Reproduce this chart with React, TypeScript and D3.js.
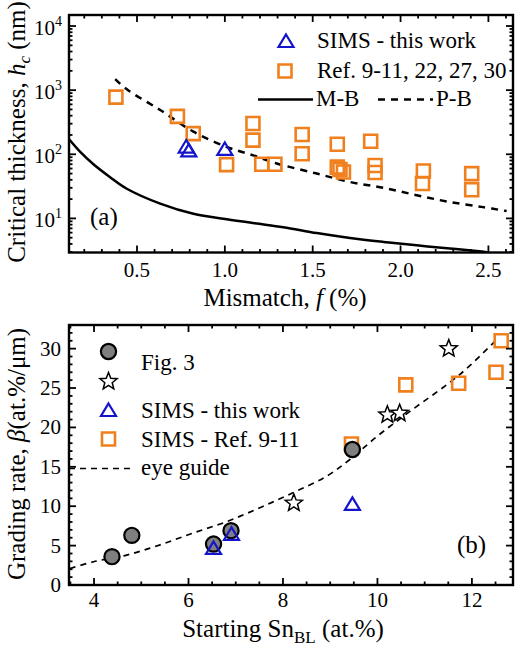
import * as d3 from "d3";
import { useEffect, useRef } from "react";

// (a) critical thickness vs mismatch
const simsMismatch = [0.78, 0.795, 1.0];
const simsThickness = [132, 115, 121];
const refMismatch = [0.38, 0.73, 0.82, 1.16, 1.16, 1.01, 1.21, 1.285, 1.44, 1.44, 1.64, 1.64, 1.655, 1.675, 1.83, 1.855, 1.855, 2.13, 2.125, 2.405, 2.405];
const refThickness = [780, 390, 210, 302, 166, 69, 70, 70, 203, 102, 143, 63, 58, 53, 160, 67, 52, 55, 35, 50, 28];
const mbMismatch = [0.115, 0.177, 0.252, 0.347, 0.442, 0.632, 0.821, 1.011, 1.17, 1.333, 1.523, 1.712, 1.902, 2.092, 2.281, 2.433, 2.5];
const mbThickness = [170, 109, 70, 44, 29, 17, 11.8, 9.7, 8.4, 7.3, 5.9, 4.95, 4.3, 3.8, 3.4, 3.1, 2.95];
const pbMismatch = [0.376, 0.442, 0.632, 0.821, 1.011, 1.162, 1.295, 1.523, 1.712, 1.902, 2.092, 2.281, 2.47, 2.604];
const pbThickness = [1490, 1030, 490, 225, 130, 96, 72, 50, 37, 30, 23, 18, 15, 13];
const mismatchTicks = [0.5, 1.0, 1.5, 2.0, 2.5];
const thicknessExponents = [1, 2, 3, 4];

// (b) grading rate vs starting Sn in the buffer layer
const fig3Sn = [4.38, 4.8, 6.53, 6.9, 9.47];
const fig3Rate = [3.6, 6.3, 5.2, 6.9, 17.2];
const starSn = [8.23, 10.21, 10.47, 11.51];
const starRate = [10.4, 21.6, 21.8, 30.0];
const simsSn = [6.53, 6.91, 9.47];
const simsRate = [4.7, 6.5, 10.3];
const refSn = [9.45, 10.6, 11.72, 12.51, 12.62];
const refRate = [17.9, 25.4, 25.6, 27.0, 31.0];
const guideSn = [3.49, 3.99, 4.69, 5.4, 6.1, 6.81, 7.51, 8.21, 8.92, 9.41, 10.0, 10.68, 11.74, 12.55];
const guideRate = [2.1, 2.95, 3.8, 5.1, 6.6, 8.05, 9.8, 11.7, 13.8, 15.9, 18.9, 22.0, 26.7, 31.3];
const snTicks = [4, 6, 8, 10, 12];
const rateTicks = [0, 5, 10, 15, 20, 25, 30];

const ORANGE = "#f0801e";
const BLUE = "#1414cc";
const FONT = "'Liberation Serif', 'Times New Roman', serif";

const trianglePath = "M0,-6.5L7.5,6L-7.5,6Z";
const squarePath = "M-6.5,-6.5H6.5V6.5H-6.5Z";
const starPath =
  d3
    .range(10)
    .map((i) => {
      const r = i % 2 === 0 ? 9 : 3.9;
      const a = (i * Math.PI) / 5 - Math.PI / 2;
      return `${i === 0 ? "M" : "L"}${(r * Math.cos(a)).toFixed(2)},${(r * Math.sin(a)).toFixed(2)}`;
    })
    .join("") + "Z";

type G = d3.Selection<SVGGElement, unknown, null, undefined>;

const ChartGrading = () => {
  const svgRef = useRef<SVGSVGElement>(null);
  useEffect(() => {
    if (!svgRef.current) return;
    const svg = d3.select(svgRef.current);
    svg.selectAll("*").remove();

    const left = 69;
    const right = 513;
    const topA = 15;
    const bottomA = 252.5;
    const topB = 325;
    const bottomB = 585;

    const xA = d3.scaleLinear().domain([0.113, 2.64]).range([left, right]);
    const yA = d3.scaleLog().domain([2.94, 14860]).range([bottomA, topA]);
    const xB = d3.scaleLinear().domain([3.47, 12.87]).range([left, right]);
    const yB = d3.scaleLinear().domain([0, 33]).range([bottomB, topB]);

    svg.append("rect").attr("width", 520).attr("height", 647).attr("fill", "#fff");

    const defs = svg.append("defs");
    defs.append("clipPath").attr("id", "clipA").append("rect")
      .attr("x", left).attr("y", topA).attr("width", right - left).attr("height", bottomA - topA);
    defs.append("clipPath").attr("id", "clipB").append("rect")
      .attr("x", left).attr("y", topB).attr("width", right - left).attr("height", bottomB - topB);

    // inward ticks on all four sides
    const addTicks = (
      g: G,
      xs: (v: number) => number,
      ys: (v: number) => number,
      xMajor: number[], xMinor: number[], yMajor: number[], yMinor: number[],
      t: number, b: number
    ) => {
      const segs: number[][] = [];
      xMajor.forEach((v) => { const p = xs(v); segs.push([p, b, p, b - 7], [p, t, p, t + 7]); });
      xMinor.forEach((v) => { const p = xs(v); segs.push([p, b, p, b - 3.5], [p, t, p, t + 3.5]); });
      yMajor.forEach((v) => { const p = ys(v); segs.push([left, p, left + 7, p], [right, p, right - 7, p]); });
      yMinor.forEach((v) => { const p = ys(v); segs.push([left, p, left + 3.5, p], [right, p, right - 3.5, p]); });
      g.append("g").attr("stroke", "#000").attr("stroke-width", 1.8)
        .selectAll("line").data(segs).join("line")
        .attr("x1", (d) => d[0]).attr("y1", (d) => d[1])
        .attr("x2", (d) => d[2]).attr("y2", (d) => d[3]);
    };

    const markers = (g: G, path: string, xs: number[], ys: number[], fx: (v: number) => number, fy: (v: number) => number, fill: string, stroke: string, sw: number) => {
      g.append("g").selectAll("path").data(xs.map((v, i) => [v, ys[i]])).join("path")
        .attr("d", path)
        .attr("transform", (d) => `translate(${fx(d[0])},${fy(d[1])})`)
        .attr("fill", fill).attr("stroke", stroke).attr("stroke-width", sw);
    };

    // ---------- panel (a)
    const gA = svg.append("g").attr("font-family", FONT);
    const plotA = gA.append("g").attr("clip-path", "url(#clipA)");
    const lineA = d3.line<number>().curve(d3.curveCatmullRom);
    plotA.append("path")
      .attr("d", lineA.x((_, i) => xA(mbMismatch[i])).y((d) => yA(d))(mbThickness))
      .attr("fill", "none").attr("stroke", "#000").attr("stroke-width", 2.5);
    plotA.append("path")
      .attr("d", lineA.x((_, i) => xA(pbMismatch[i])).y((d) => yA(d))(pbThickness))
      .attr("fill", "none").attr("stroke", "#000").attr("stroke-width", 2.5)
      .attr("stroke-dasharray", "7,6");
    markers(plotA, squarePath, refMismatch, refThickness, xA, yA, "none", ORANGE, 2.6);
    markers(plotA, trianglePath, simsMismatch, simsThickness, xA, yA, "none", BLUE, 2.2);

    const minorMismatch = d3.range(2, 27).filter((i) => i % 5 !== 0).map((i) => i / 10);
    const logMinor: number[] = [];
    [0, 1, 2, 3, 4].forEach((e) => d3.range(2, 10).forEach((k) => {
      const v = k * 10 ** e;
      if (v >= 2.94 && v <= 14860) logMinor.push(v);
    }));
    addTicks(gA, xA, yA, mismatchTicks, minorMismatch, thicknessExponents.map((e) => 10 ** e), logMinor, topA, bottomA);
    gA.append("rect").attr("x", left).attr("y", topA).attr("width", right - left).attr("height", bottomA - topA)
      .attr("fill", "none").attr("stroke", "#000").attr("stroke-width", 2.4);

    gA.append("g").attr("font-size", 21).attr("text-anchor", "middle")
      .selectAll("text").data(mismatchTicks).join("text")
      .attr("x", (d) => xA(d)).attr("y", 277).text((d) => d.toFixed(1));
    const yLabA = gA.append("g").attr("font-size", 21).attr("text-anchor", "end")
      .selectAll("text").data(thicknessExponents).join("text")
      .attr("x", 62).attr("y", (d) => yA(10 ** d) + 8.5);
    yLabA.append("tspan").text("10");
    yLabA.append("tspan").attr("dy", -9).attr("font-size", 14).text((d) => d);

    const titleXA = gA.append("text").attr("x", 285).attr("y", 306).attr("font-size", 25).attr("text-anchor", "middle");
    titleXA.append("tspan").text("Mismatch, ");
    titleXA.append("tspan").attr("font-style", "italic").text("f");
    titleXA.append("tspan").text(" (%)");

    const titleYA = gA.append("text").attr("transform", "translate(25,132) rotate(-90)")
      .attr("font-size", 25).attr("text-anchor", "middle");
    titleYA.append("tspan").text("Critical thickness, ");
    titleYA.append("tspan").attr("font-style", "italic").text("h");
    titleYA.append("tspan").attr("font-style", "italic").attr("font-size", 17).attr("dy", 5).text("c");
    titleYA.append("tspan").attr("dy", -5).text(" (nm)");

    gA.append("text").attr("x", 90).attr("y", 225).attr("font-size", 25).text("(a)");

    // legend (a)
    const legA = gA.append("g").attr("font-size", 23);
    legA.append("path").attr("d", trianglePath).attr("transform", "translate(286,41)")
      .attr("fill", "none").attr("stroke", BLUE).attr("stroke-width", 2.2);
    legA.append("text").attr("x", 317).attr("y", 48).text("SIMS - this work");
    legA.append("path").attr("d", squarePath).attr("transform", "translate(285,71)")
      .attr("fill", "none").attr("stroke", ORANGE).attr("stroke-width", 2.6);
    legA.append("text").attr("x", 317).attr("y", 78).text("Ref. 9-11, 22, 27, 30");
    legA.append("line").attr("x1", 258).attr("x2", 313).attr("y1", 99.5).attr("y2", 99.5)
      .attr("stroke", "#000").attr("stroke-width", 2.5);
    legA.append("text").attr("x", 316).attr("y", 106).text("M-B");
    legA.append("line").attr("x1", 378).attr("x2", 433).attr("y1", 99.5).attr("y2", 99.5)
      .attr("stroke", "#000").attr("stroke-width", 2.5).attr("stroke-dasharray", "7,6");
    legA.append("text").attr("x", 436).attr("y", 106).text("P-B");

    // ---------- panel (b)
    const gB = svg.append("g").attr("font-family", FONT);
    const plotB = gB.append("g").attr("clip-path", "url(#clipB)");
    plotB.append("path")
      .attr("d", d3.line<number>().curve(d3.curveCatmullRom)
        .x((_, i) => xB(guideSn[i])).y((d) => yB(d))(guideRate))
      .attr("fill", "none").attr("stroke", "#000").attr("stroke-width", 1.7)
      .attr("stroke-dasharray", "6,5");
    markers(plotB, squarePath, refSn, refRate, xB, yB, "none", ORANGE, 2.6);
    plotB.append("g").selectAll("circle").data(fig3Sn.map((v, i) => [v, fig3Rate[i]])).join("circle")
      .attr("cx", (d) => xB(d[0])).attr("cy", (d) => yB(d[1])).attr("r", 7.6)
      .attr("fill", "#7f7f7f").attr("stroke", "#000").attr("stroke-width", 2.2);
    markers(plotB, starPath, starSn, starRate, xB, yB, "#fff", "#000", 1.5);
    markers(plotB, trianglePath, simsSn, simsRate, xB, yB, "none", BLUE, 2.2);

    const minorSn = d3.range(7, 26).map((i) => i / 2).filter((v) => v % 2 !== 0);
    const minorRate = d3.range(1, 34).filter((v) => v % 5 !== 0);
    addTicks(gB, xB, yB, snTicks, minorSn, rateTicks, minorRate, topB, bottomB);
    gB.append("rect").attr("x", left).attr("y", topB).attr("width", right - left).attr("height", bottomB - topB)
      .attr("fill", "none").attr("stroke", "#000").attr("stroke-width", 2.4);

    gB.append("g").attr("font-size", 21).attr("text-anchor", "middle")
      .selectAll("text").data(snTicks).join("text")
      .attr("x", (d) => xB(d)).attr("y", 607).text((d) => d);
    gB.append("g").attr("font-size", 21).attr("text-anchor", "end")
      .selectAll("text").data(rateTicks).join("text")
      .attr("x", 61).attr("y", (d) => yB(d) + 7).text((d) => d);

    const titleXB = gB.append("text").attr("x", 283).attr("y", 637).attr("font-size", 25).attr("text-anchor", "middle");
    titleXB.append("tspan").text("Starting Sn");
    titleXB.append("tspan").attr("font-size", 17).attr("dy", 6).text("BL");
    titleXB.append("tspan").attr("dy", -6).text(" (at.%)");

    const titleYB = gB.append("text").attr("transform", "translate(25,454) rotate(-90)")
      .attr("font-size", 25).attr("text-anchor", "middle");
    titleYB.append("tspan").text("Grading rate, ");
    titleYB.append("tspan").attr("font-style", "italic").text("β");
    titleYB.append("tspan").text("(at.%/μm)");

    gB.append("text").attr("x", 457).attr("y", 553).attr("font-size", 25).text("(b)");

    // legend (b)
    const legB = gB.append("g").attr("font-size", 23);
    legB.append("circle").attr("cx", 108.5).attr("cy", 351.5).attr("r", 7.6)
      .attr("fill", "#7f7f7f").attr("stroke", "#000").attr("stroke-width", 2.2);
    legB.append("path").attr("d", starPath).attr("transform", "translate(108.5,381.5)")
      .attr("fill", "#fff").attr("stroke", "#000").attr("stroke-width", 1.5);
    legB.append("text").attr("x", 141).attr("y", 370).text("Fig. 3");
    legB.append("path").attr("d", trianglePath).attr("transform", "translate(108.5,410)")
      .attr("fill", "none").attr("stroke", BLUE).attr("stroke-width", 2.2);
    legB.append("text").attr("x", 141).attr("y", 418).text("SIMS - this work");
    legB.append("path").attr("d", squarePath).attr("transform", "translate(108.5,439)")
      .attr("fill", "none").attr("stroke", ORANGE).attr("stroke-width", 2.6);
    legB.append("text").attr("x", 141).attr("y", 447).text("SIMS - Ref. 9-11");
    legB.append("line").attr("x1", left).attr("x2", 135).attr("y1", 468.5).attr("y2", 468.5)
      .attr("stroke", "#000").attr("stroke-width", 1.7).attr("stroke-dasharray", "6,5");
    legB.append("text").attr("x", 141).attr("y", 475).text("eye guide");
  }, []);
  return (
    <svg
      ref={svgRef}
      width={520}
      height={647}
      style={{ position: "absolute", left: 0, top: 0, display: "block" }}
    ></svg>
  );
};

export default ChartGrading;
